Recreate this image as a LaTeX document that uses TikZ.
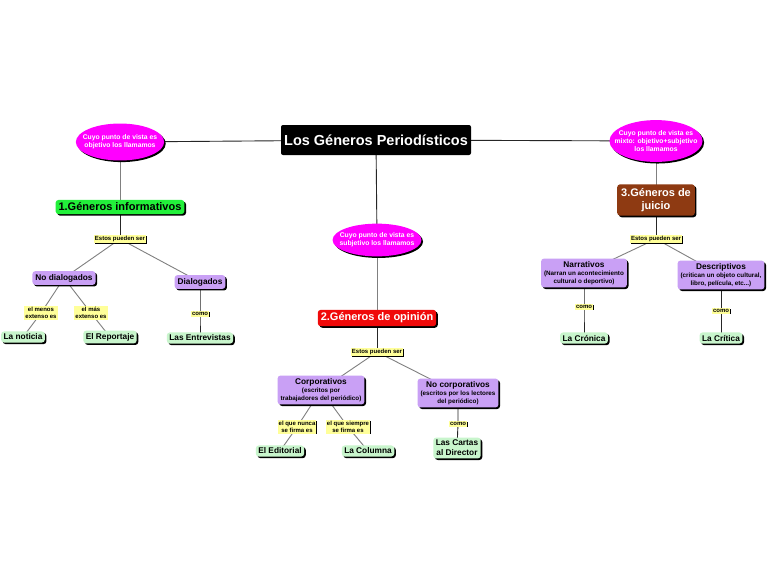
\documentclass[tikz,border=0pt]{standalone}
\usepackage{fontspec}
\setmainfont{Liberation Sans}
\usetikzlibrary{shapes.geometric,shadows,backgrounds}
\definecolor{magentaE}{HTML}{FF00FF}
\definecolor{greenBig}{HTML}{22F03A}
\definecolor{redBig}{HTML}{F00A0A}
\definecolor{brownBig}{HTML}{8E3A12}
\definecolor{lilac}{HTML}{C9A0F5}
\definecolor{leafgreen}{HTML}{C8F5CC}
\definecolor{lblyellow}{HTML}{FFFF99}
\definecolor{linegray}{HTML}{808080}
\newcommand\subtxt{\bfseries\fontsize{6.3}{7.2}\selectfont}
\tikzset{
  shd/.style={drop shadow={shadow xshift=1.6pt,shadow yshift=-1.6pt,fill=black,opacity=1}},
  titlebox/.style={fill=black,text=white,rounded corners=2pt,font=\bfseries\fontsize{14.5}{16}\selectfont,minimum width=190pt,minimum height=30pt,inner sep=2pt},
  ell/.style={ellipse,fill=magentaE,text=white,align=center,font=\bfseries\fontsize{6.8}{7.8}\selectfont,shd},
  bigbox/.style={rounded corners=3pt,align=center,inner sep=3pt,font=\bfseries\fontsize{11}{13}\selectfont,shd},
  cat/.style={fill=lilac,rounded corners=3pt,align=center,inner sep=3pt,font=\bfseries\fontsize{8.3}{9.3}\selectfont,shd},
  leaf/.style={fill=leafgreen,rounded corners=3pt,align=center,inner sep=2.5pt,font=\bfseries\fontsize{8.3}{10}\selectfont,shd},
  lbl/.style={fill=lblyellow,align=center,inner sep=1pt,font=\bfseries\fontsize{6}{6.8}\selectfont,drop shadow={shadow xshift=0.8pt,shadow yshift=-0.8pt,fill=black,opacity=1}},
  conn/.style={draw=linegray,line width=0.9pt},
  darkconn/.style={draw=black!85,line width=0.9pt}
}
\begin{document}
\begin{tikzpicture}[x=1pt,y=-1pt]
\useasboundingbox (0,0) rectangle (768,578);
% title
\node[titlebox] (title) at (376,140) {Los Géneros Periodísticos};
% ellipses
\node[ell,inner xsep=-6pt,inner ysep=6pt] (eL) at (120,142) {Cuyo punto de vista es\\objetivo los llamamos};
\node[ell,inner xsep=-6pt,inner ysep=4.5pt] (eC) at (377,240) {Cuyo punto de vista es\\subjetivo los llamamos};
\node[ell,inner xsep=-8.5pt,inner ysep=4.5pt] (eR) at (656,141) {Cuyo punto de vista es\\mixto: objetivo+subjetivo\\los llamamos};
% big boxes
\node[bigbox,fill=greenBig,text=black] (g1) at (120,207) {1.Géneros informativos};
\node[bigbox,fill=redBig,text=white] (g2) at (377,318) {2.Géneros de opinión};
\node[bigbox,fill=brownBig,text=white,inner sep=4pt] (g3) at (656,200) {3.Géneros de\\juicio};
% left branch
\node[lbl] (lL) at (120,239) {Estos pueden ser};
\node[cat] (nd) at (64,278) {No dialogados};
\node[cat] (dg) at (200,282) {Dialogados};
\node[lbl] (lmen) at (41,313) {el menos\\extenso es};
\node[lbl] (lmas) at (91,313) {el más\\extenso es};
\node[lbl] (lcomoL) at (200,314) {como};
\node[leaf] (not) at (23,337) {La noticia};
\node[leaf] (rep) at (110,337) {El Reportaje};
\node[leaf] (ent) at (200,338) {Las Entrevistas};
% center branch
\node[lbl] (lC) at (377,352) {Estos pueden ser};
\node[cat] (corp) at (321,390) {Corporativos\\[-1pt]{\subtxt(escritos por}\\[-2pt]{\subtxt trabajadores del periódico)}};
\node[cat] (ncorp) at (458,393) {No corporativos\\[-1pt]{\subtxt(escritos por los lectores}\\[-2pt]{\subtxt del periódico)}};
\node[lbl] (lnun) at (297,427) {el que nunca\\se firma es};
\node[lbl] (lsie) at (348,427) {el que siempre\\se firma es};
\node[lbl] (lcomoC) at (458,424) {como};
\node[leaf] (edi) at (280,451) {El Editorial};
\node[leaf] (col) at (368,451) {La Columna};
\node[leaf] (car) at (457,448) {Las Cartas\\al Director};
% right branch
\node[lbl] (lR) at (656,239) {Estos pueden ser};
\node[cat] (nar) at (584,273) {Narrativos\\[-1pt]{\subtxt(Narran un acontecimiento}\\[-2pt]{\subtxt cultural o deportivo)}};
\node[cat] (des) at (721,275) {Descriptivos\\[-1pt]{\subtxt(critican un objeto cultural,}\\[-2pt]{\subtxt libro, película, etc...)}};
\node[lbl] (lcomoR1) at (584,307) {como};
\node[lbl] (lcomoR2) at (721,311) {como};
\node[leaf] (cro) at (584,338) {La Crónica};
\node[leaf] (cri) at (721,338) {La Crítica};
% connectors
\begin{pgfonlayer}{background}
\fill[white] (0,0) rectangle (768,578);
\draw[darkconn] (eL.center) -- (title.center);
\draw[darkconn] (title.center) -- (eR.center);
\draw[darkconn] (title.center) -- (eC.center);
\draw[conn] (eC.center) -- (g2.center);
\draw[conn] (eL.center) -- (g1.center);
\draw[conn] (eR.center) -- (g3.center);
\draw[darkconn] (g1.center) -- (lL.center);
\draw[darkconn] (g2.center) -- (lC.center);
\draw[darkconn] (g3.center) -- (lR.center);
\draw[conn] (lL.center) -- (nd.center);
\draw[conn] (lL.center) -- (dg.center);
\draw[conn] (nd.center) -- (lmen.center) -- (not.center);
\draw[conn] (nd.center) -- (lmas.center) -- (rep.center);
\draw[darkconn] (dg.center) -- (lcomoL.center) -- (ent.center);
\draw[conn] (lC.center) -- (corp.center);
\draw[conn] (lC.center) -- (ncorp.center);
\draw[conn] (corp.center) -- (lnun.center) -- (edi.center);
\draw[conn] (corp.center) -- (lsie.center) -- (col.center);
\draw[darkconn] (ncorp.center) -- (lcomoC.center) -- (car.center);
\draw[conn] (lR.center) -- (nar.center);
\draw[conn] (lR.center) -- (des.center);
\draw[darkconn] (nar.center) -- (lcomoR1.center) -- (cro.center);
\draw[darkconn] (des.center) -- (lcomoR2.center) -- (cri.center);
\end{pgfonlayer}
\end{tikzpicture}
\end{document}
